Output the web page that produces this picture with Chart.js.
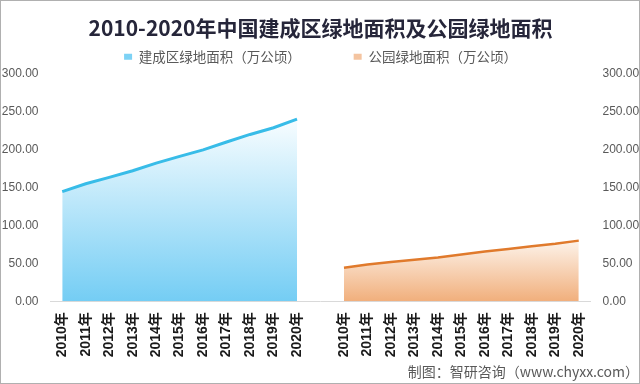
<!DOCTYPE html>
<html>
<head>
<meta charset="utf-8">
<script src="https://cdn.jsdelivr.net/npm/chart.js@4.4.0/dist/chart.umd.min.js"></script>
<style>
  body { margin: 0; background: #fff; }
</style>
</head>
<body>
<canvas id="myChart" width="640" height="384"></canvas>
<script>
const years = ["2010年", "2011年", "2012年", "2013年", "2014年", "2015年", "2016年", "2017年", "2018年", "2019年", "2020年"];
const builtGreen = [144.4, 154.7, 163.1, 171.9, 182.0, 190.8, 199.3, 209.7, 219.7, 228.5, 239.8];
const parkGreen = [44.1, 48.3, 51.8, 54.7, 57.7, 61.4, 65.4, 68.8, 72.4, 75.6, 79.8];
const yTicks = [0, 50, 100, 150, 200, 250, 300];

// two groups of years with one empty slot between them
const xLabels = years.concat([""], years);
const blanks = new Array(years.length + 1).fill(null);
const builtData = builtGreen.concat(blanks);
const parkData = blanks.concat(parkGreen);

function areaFill(values, topColor, bottomColor) {
  return function(ctx) {
    const chart = ctx.chart;
    const area = chart.chartArea;
    if (!area) return topColor;
    const top = chart.scales.y.getPixelForValue(Math.max(...values));
    const g = chart.ctx.createLinearGradient(0, top, 0, area.bottom);
    g.addColorStop(0, topColor);
    g.addColorStop(1, bottomColor);
    return g;
  };
}

const frame = {
  id: 'frame',
  afterDraw(chart) {
    const c = chart.ctx;
    c.save();
    c.strokeStyle = '#b0b0b0';
    c.lineWidth = 1;
    c.strokeRect(0.5, 0.5, chart.width - 1, chart.height - 1);
    c.restore();
  }
};

const tickFont = {family: '"Liberation Sans", "Noto Sans CJK SC"', size: 12};

new Chart("myChart", {
  type: "line",
  data: {
    labels: xLabels,
    datasets: [{
      label: "建成区绿地面积（万公顷）",
      data: builtData,
      borderColor: "#38bce8",
      borderWidth: 3,
      backgroundColor: areaFill(builtGreen, "#f8fdff", "#74cdf4"),
      fill: "origin",
      pointRadius: 0,
      tension: 0
    }, {
      label: "公园绿地面积（万公顷）",
      data: parkData,
      borderColor: "#e07a2c",
      borderWidth: 2.5,
      backgroundColor: areaFill(parkGreen, "#fdf3ea", "#f1af7c"),
      fill: "origin",
      pointRadius: 0,
      tension: 0
    }]
  },
  options: {
    responsive: false,
    animation: false,
    layout: {padding: {left: 2, right: 1, top: 0, bottom: 0}},
    plugins: {
      title: {
        display: true,
        text: "2010-2020年中国建成区绿地面积及公园绿地面积",
        color: "#26263a",
        font: {family: '"Noto Sans CJK SC"', size: 21, weight: "bold", lineHeight: 1},
        padding: {top: 17.5, bottom: 1.5}
      },
      legend: {
        display: true,
        labels: {
          color: "#595959",
          font: {family: '"Noto Sans CJK SC"', size: 13.5},
          boxWidth: 8,
          boxHeight: 6,
          padding: 10,
          generateLabels(chart) {
            const items = Chart.defaults.plugins.legend.labels.generateLabels(chart);
            const swatch = ["#7dd2f5", "#f4c4a0"];
            items.forEach((it, i) => {
              it.fillStyle = swatch[i];
              it.strokeStyle = swatch[i];
              it.lineWidth = 0;
              if (i === 0) it.text += "\u3000\u3000\u3000   ";
            });
            return items;
          }
        }
      },
      subtitle: {
        display: true,
        position: "bottom",
        align: "end",
        text: "制图：智研咨询（www.chyxx.com）",
        color: "#595959",
        font: {family: '"Noto Sans CJK SC"', size: 14},
        padding: {top: 6, bottom: 4}
      },
      tooltip: {enabled: false}
    },
    scales: {
      x: {
        offset: true,
        grid: {display: false, drawTicks: false},
        border: {display: true, color: "#d9d9d9", width: 1},
        afterFit(axis) { axis.height = 56; },
        ticks: {
          autoSkip: false,
          minRotation: 90,
          maxRotation: 90,
          padding: 11,
          color: "#1a1a1a",
          font: {family: '"Liberation Sans", "Noto Sans CJK SC"', size: 14, weight: "bold"}
        }
      },
      y: {
        position: "left",
        min: 0,
        max: 300,
        grid: {display: false, drawTicks: false},
        border: {display: false},
        afterFit(axis) { axis.width = 48.5; },
        afterBuildTicks(axis) { axis.ticks = yTicks.map(v => ({value: v})); },
        ticks: {padding: 12, color: "#595959", font: tickFont, callback: v => v.toFixed(2)}
      },
      y2: {
        position: "right",
        min: 0,
        max: 300,
        grid: {display: false, drawTicks: false},
        border: {display: false},
        afterFit(axis) { axis.width = 48.5; },
        afterBuildTicks(axis) { axis.ticks = yTicks.map(v => ({value: v})); },
        ticks: {padding: 12, color: "#595959", font: tickFont, callback: v => v.toFixed(2)}
      }
    }
  },
  plugins: [frame]
});
</script>
</body>
</html>
